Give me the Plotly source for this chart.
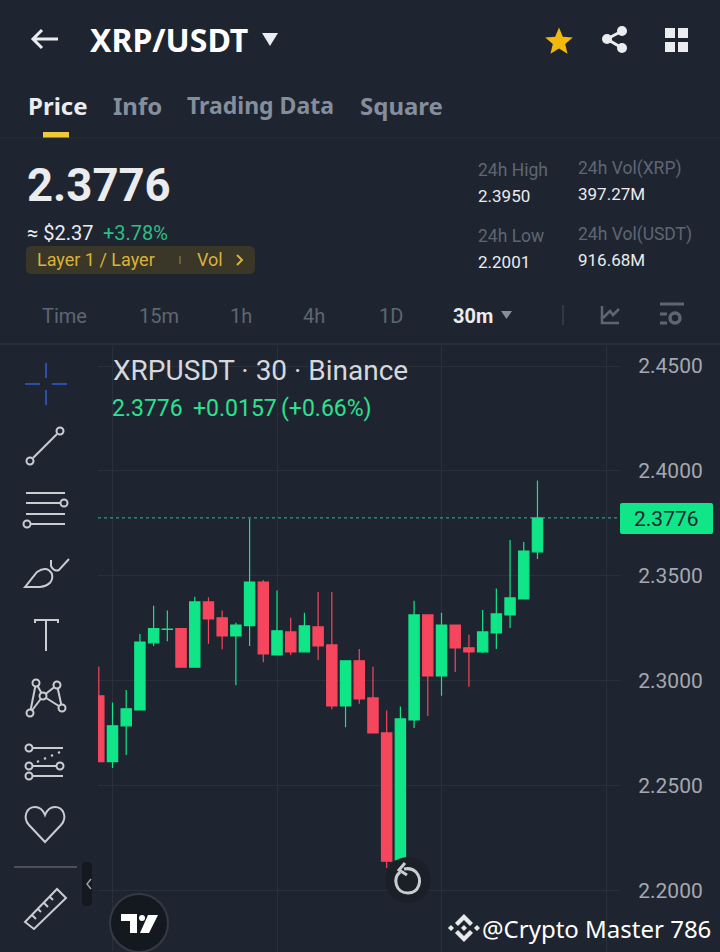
import math, re
import plotly.graph_objects as go

# ---------- chart data ----------
candle_index = list(range(33))
opens  = [2.2927,2.2613,2.2784,2.2860,2.3180,2.3244,2.3248,2.3064,2.3375,2.3299,2.3213,2.3262,2.3470,2.3122,2.3232,2.3137,2.3256,
          2.3170,2.2879,2.3094,2.2917,2.2750,2.2144,2.2812,2.3313,2.3022,2.3265,2.3156,2.3137,2.3227,2.3313,2.3389,2.3614]
highs  = [2.3066,2.2895,2.2955,2.3222,2.3357,2.3334,2.3248,2.3400,2.3397,2.3334,2.3276,2.3772,2.3480,2.3429,2.3300,2.3324,2.3423,
          2.3423,2.3094,2.3151,2.3066,2.2857,2.2876,2.3381,2.3313,2.3324,2.3265,2.3218,2.3337,2.3439,2.3671,2.3661,2.3954]
lows   = [2.2610,2.2583,2.2645,2.2860,2.3165,2.3188,2.3064,2.3064,2.3175,2.3149,2.2978,2.3165,2.3087,2.3122,2.3122,2.3137,2.3098,
          2.2863,2.2777,2.2889,2.2750,2.2106,2.2100,2.2774,2.2831,2.2927,2.3041,2.2970,2.3132,2.3151,2.3251,2.3389,2.3580]
closes = [2.2613,2.2784,2.2865,2.3184,2.3248,2.3245,2.3064,2.3375,2.3294,2.3213,2.3265,2.3470,2.3127,2.3237,2.3137,2.3261,2.3165,
          2.2879,2.3094,2.2912,2.2750,2.2138,2.2817,2.3313,2.3022,2.3265,2.3156,2.3137,2.3232,2.3318,2.3394,2.3618,2.3776]
price_ticks = [2.20, 2.25, 2.30, 2.35, 2.40, 2.45]
time_grid = [1, 13, 25, 37]
last_price = 2.3776

BG = "#1f2530"
UP = "#10e588"
DOWN = "#f6465d"
WHITE = "#eaecef"
GREY = "#848e9c"
DIM = "#5e6673"
ICON = "#c9ccd1"
GRID = "#2a303a"
W, H = 720, 952


def fx(x): return x / W
def fy(y): return 1 - y / H


def pth(d):
    out, isx = [], True
    for t in re.findall(r"[A-Za-z]|-?[\d.]+", d):
        if t.isalpha():
            out.append(t); isx = True
        else:
            out.append(f"{fx(float(t)):.5f}" if isx else f"{fy(float(t)):.5f}")
            isx = not isx
    return " ".join(out)


shapes, notes = [], []


def stroke(d, color=ICON, w=2, layer="above"):
    shapes.append(dict(type="path", xref="paper", yref="paper", path=pth(d), layer=layer,
                       line=dict(color=color, width=w), fillcolor="rgba(0,0,0,0)"))


def fill(d, color, layer="above"):
    shapes.append(dict(type="path", xref="paper", yref="paper", path=pth(d), layer=layer,
                       line=dict(width=0), fillcolor=color))


def circle(cx, cy, r, line=ICON, w=2, fc=BG, layer="above"):
    shapes.append(dict(type="circle", xref="paper", yref="paper", layer=layer,
                       x0=fx(cx - r), x1=fx(cx + r), y0=fy(cy + r), y1=fy(cy - r),
                       line=dict(color=line, width=w), fillcolor=fc))


def text(s, x, y, size, color=WHITE, bold=False, font="Roboto", anchor="left"):
    shift = -2 if anchor == "left" else 0
    notes.append(dict(text=f"<b>{s}</b>" if bold else s, x=fx(x + shift), y=fy(y), xref="paper", yref="paper",
                      xanchor=anchor, yanchor="middle", showarrow=False,
                      font=dict(size=size, color=color, family=font)))


def rrect(x0, y0, x1, y1, r, color):
    fill(f"M{x0+r} {y0} L{x1-r} {y0} Q{x1} {y0} {x1} {y0+r} L{x1} {y1-r} Q{x1} {y1} {x1-r} {y1} "
         f"L{x0+r} {y1} Q{x0} {y1} {x0} {y1-r} L{x0} {y0+r} Q{x0} {y0} {x0+r} {y0} Z", color)


# ---------- header ----------
stroke("M58 39 L33 39 M42 30 L33 39 L42 48", WHITE, 3)
text("XRP/USDT", 90, 40, 32, "#ffffff", True, "Noto Sans")
fill("M262 33 L278 33 L270 46 Z", WHITE)
star = "M" + " L".join(
    f"{559 + (14.5 if i % 2 == 0 else 6.5) * math.sin(i * math.pi / 5):.1f} "
    f"{42 - (14.5 if i % 2 == 0 else 6.5) * math.cos(i * math.pi / 5):.1f}" for i in range(10)) + " Z"
fill(star, "#f0b90b")
stroke("M622 31 L607 39 L622 48", WHITE, 3)
for c in [(622, 31), (607, 39), (622, 48)]:
    circle(c[0], c[1], 5, WHITE, 0, WHITE)
for x0, y0 in [(665, 28), (678, 28), (665, 42), (678, 42)]:
    fill(f"M{x0} {y0} L{x0+10} {y0} L{x0+10} {y0+10} L{x0} {y0+10} Z", WHITE)

text("Price", 28, 105, 24, WHITE, True, "Noto Sans")
text("Info", 113, 105, 24, GREY, True, "Noto Sans")
text("Trading Data", 187, 105, 23, GREY, True, "Noto Sans")
text("Square", 360, 105, 24, GREY, True, "Noto Sans")
fill("M43 132 L69 132 L69 138 L43 138 Z", "#f0c93a")
stroke("M0 138 L720 138", "#2b3139", 1)

# ---------- quote block ----------
text("2.3776", 27, 186, 45.5, WHITE, True)
text("≈ $2.37", 27, 233, 20, WHITE)
text("+3.78%", 103, 233, 20, "#2ebd85")
rrect(26, 246, 255, 274, 6, "#3a3628")
text("Layer 1 / Layer", 37, 260, 18, "#d9b23c")
stroke("M180 256 L180 264", "#6b6134", 2)
text("Vol", 197, 260, 18, "#d9b23c")
stroke("M237 255 L242 260 L237 265", "#d9b23c", 2)

for s, x, y in [("24h High", 478, 170), ("24h Low", 478, 236), ("24h Vol(XRP)", 578, 168), ("24h Vol(USDT)", 578, 234)]:
    text(s, x, y, 17.5, DIM)
for s, x, y in [("2.3950", 478, 196), ("2.2001", 478, 262), ("397.27M", 578, 194), ("916.68M", 578, 260)]:
    text(s, x, y, 17, WHITE)

# ---------- timeframe row ----------
for s, x in [("Time", 42), ("15m", 139), ("1h", 230), ("4h", 303), ("1D", 379)]:
    text(s, x, 316, 20, DIM)
text("30m", 453, 316, 20, WHITE, True)
fill("M501 311 L512 311 L506.5 319 Z", GREY)
stroke("M563 305 L563 325", "#39404b", 1.5)
stroke("M602 306 L602 323 L619 323 M603 318 L610 311 L613 315 L619 309", DIM, 2.5)
stroke("M660 304 L684 304", DIM, 3)
stroke("M660 314 L667 314 M660 323 L667 323", DIM, 3)
circle(675, 318, 5, DIM, 3.5, BG)
stroke("M0 344 L720 344", "#2a303a", 2)

# ---------- left toolbar ----------
blue = "#2c4fa8"
stroke("M25 384 L40 384 M52 384 L67 384 M46 363 L46 378 M46 390 L46 405", blue, 2)
stroke("M33 458 L57 434")
circle(60, 431, 3.5); circle(30, 461, 3.5)
stroke("M26 493 L65 493 M26 503 L60 503 M26 514 L65 514 M31 524 L65 524")
circle(64, 503, 3.5); circle(27, 524, 3.5)
stroke("M25 587 L37 572 Q47 565 52 574 Q54 585 40 587 Z M51 560 L51 566 Q54 572 59 570 L69 559")
stroke("M35 623 L35 620 L58 620 L58 623 M46 620 L46 651")
for a, b in [((36, 683), (30, 713)), ((36, 683), (43, 696)), ((57, 685), (43, 696)), ((57, 685), (62, 708)),
             ((43, 696), (62, 708)), ((43, 696), (30, 713))]:
    stroke(f"M{a[0]} {a[1]} L{b[0]} {b[1]}")
for c in [(36, 683), (57, 685), (43, 696), (30, 713), (62, 708)]:
    circle(c[0], c[1], 3.5)
stroke("M33 748 L63 748 M33 766 L56 766 M33 776 L63 776")
stroke("M37 762 L39 761 M44 759 L46 758 M51 756 L53 755 M58 753 L60 752")
circle(29, 748, 3.5); circle(29, 766, 3.5); circle(60, 766, 3.5); circle(29, 776, 3.5)
stroke("M45 842 L29 825 C22 817 27 807 35 807 C40 807 43 810 45 815 C47 810 50 807 55 807 C63 807 68 817 61 825 Z")
stroke("M14 867 L77 867", "#4a4f58", 2)
rrect(82, 862, 92, 906, 4, "#14181f")
stroke("M91 879 L87 884 L91 889", "#9a9ea6", 1.5)
stroke("M25 922 L57 889 L66 898 L34 929 Z M32 915 L36 919 M38 909 L41 912 M44 903 L48 907 M50 897 L53 900")

# ---------- chart overlays ----------
text("XRPUSDT · 30 · Binance", 113, 371, 28, "#d5d8dc")
text("2.3776", 112, 408, 23, "#2ee08f")
text("+0.0157", 193, 408, 23, "#2ee08f")
text("(+0.66%)", 281, 408, 23, "#2ee08f")

rrect(620, 503, 713, 534, 2, UP)
text("2.3776", 666, 518.5, 21, "#1f2530", anchor="center")

circle(408, 880, 23, "#1a1f28", 0, "#1a1f28")
stroke("M400 872 C392 879 396 893 408 893 C419 893 423 880 416 872 C413 869 409 868 404 869", ICON, 3)
stroke("M405 863 L399 870 L407 875", ICON, 3)

circle(139, 923, 29, "#343a45", 2, "#14181f")
fill("M121 914 L137 914 L137 933 L130 933 L130 921 L121 921 Z", "#ffffff")
circle(142, 918, 3, "#ffffff", 0, "#ffffff")
fill("M148 915 L158 915 L149 933 L140 933 Z", "#ffffff")

fill("M464 914 L473 923 L470 926 L464 920 L458 926 L455 923 Z M464 942 L473 933 L470 930 L464 936 L458 930 L455 933 Z "
     "M451 925 L454 928 L451 931 L448 928 Z M477 925 L480 928 L477 931 L474 928 Z M464 925 L467 928 L464 931 L461 928 Z", "#e8e8e8")
text("@Crypto Master 786", 482, 928, 24, "#ffffff", False, "Noto Sans")

# ---------- candles ----------
fig = go.Figure(go.Candlestick(
    x=candle_index, open=opens, high=highs, low=lows, close=closes,
    increasing=dict(line=dict(color=UP, width=1.2), fillcolor=UP),
    decreasing=dict(line=dict(color=DOWN, width=1.2), fillcolor=DOWN),
    whiskerwidth=0, showlegend=False, hoverinfo="skip",
))
shapes.insert(0, dict(type="line", xref="paper", yref="y", x0=fx(98), x1=fx(620), y0=last_price, y1=last_price,
                      layer="above", line=dict(color="#2fb8a0", width=1, dash="dot")))

fig.update_layout(
    width=W, height=H, margin=dict(l=0, r=0, t=0, b=0), autosize=False,
    paper_bgcolor=BG, plot_bgcolor=BG, showlegend=False, boxgap=0.25, boxgroupgap=0,
    xaxis=dict(domain=[fx(98), fx(620)], range=[-0.058, 38.02], rangeslider=dict(visible=False),
               tickvals=time_grid, showticklabels=False, showgrid=True, gridcolor=GRID, gridwidth=1,
               zeroline=False, showline=False, ticks=""),
    yaxis=dict(domain=[0, fy(346)], range=[2.1705, 2.4596], side="right", tickvals=price_ticks,
               tickformat=".4f", tickfont=dict(size=21, color="#a4a8b0", family="Roboto"),
               ticks="outside", ticklen=13, tickcolor="rgba(0,0,0,0)", showgrid=True, gridcolor=GRID,
               gridwidth=1, zeroline=False, showline=False),
    shapes=shapes, annotations=notes,
)

fig.write_html("out.html", config=dict(displayModeBar=False),
               post_script="document.body.style.margin='0';document.body.style.background='#1f2530';document.documentElement.style.overflow='hidden';")
